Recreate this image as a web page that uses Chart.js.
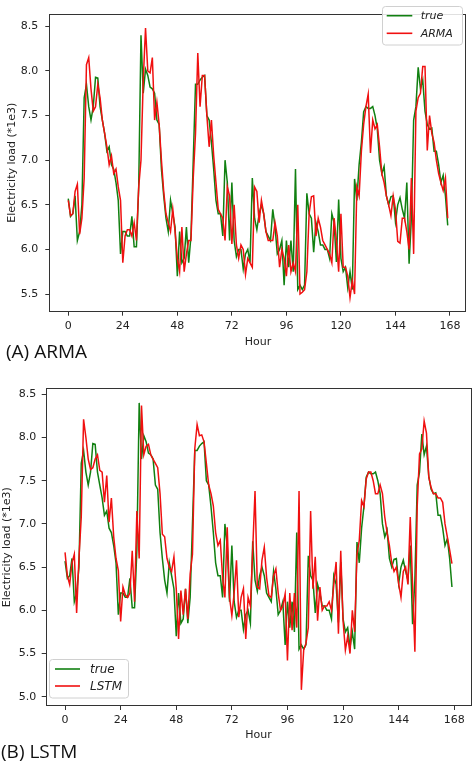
<!DOCTYPE html>
<html><head><meta charset="utf-8">
<script src="https://cdn.jsdelivr.net/npm/chart.js@4.4.1/dist/chart.umd.min.js"></script>
<style>
html,body{margin:0;padding:0;background:#fff;width:474px;height:763px;overflow:hidden;}
canvas{position:absolute;left:0;}
#c1{top:0;width:474px;height:350px;}
#c2{top:376px;width:474px;height:366px;}
.cap{position:absolute;font-family:"Open Sans",sans-serif;font-size:19px;color:#111;white-space:nowrap;line-height:19px;}
</style></head><body>
<canvas id="c1" width="474" height="350"></canvas>
<canvas id="c2" width="474" height="366"></canvas>
<div class="cap" style="left:6px;top:342px;">(A) ARMA</div>
<div class="cap" style="left:1px;top:742px;">(B) LSTM</div>
<script>
// ---- data (hourly electricity load, *1e3) ----
const trueLoad = [
6.57,6.37,6.40,6.60,6.10,6.20,6.50,7.70,7.85,7.60,7.45,7.60,7.93,7.92,7.60,7.45,7.30,7.10,7.15,6.95,
6.90,6.75,6.55,5.95,6.20,6.20,6.15,6.15,6.37,6.03,6.03,6.70,8.40,7.75,8.02,7.95,7.82,7.80,7.75,7.45,
7.40,6.90,6.60,6.35,6.20,6.55,6.40,6.25,5.70,6.20,5.85,5.90,6.25,5.85,6.15,7.00,7.85,7.85,7.90,7.93,
7.95,7.50,7.45,7.20,6.90,6.55,6.40,6.40,6.15,7.00,6.75,6.10,6.75,6.10,5.92,6.00,6.00,5.78,5.95,6.00,
5.85,6.80,6.35,6.22,6.40,6.50,6.40,6.20,6.15,6.10,6.45,6.25,5.95,6.00,6.10,5.60,6.10,5.80,6.10,5.75,
6.90,5.55,5.60,5.55,5.60,6.63,6.40,6.35,5.97,6.30,6.20,6.05,6.05,6.00,6.00,5.90,6.40,6.30,5.86,6.56,
5.90,5.75,5.80,5.57,5.75,5.55,6.79,6.55,6.95,7.20,7.54,7.60,7.58,7.58,7.60,7.50,7.35,7.00,6.85,6.93,
6.60,6.50,6.59,6.60,6.31,6.50,6.58,6.45,6.35,6.75,5.84,6.35,7.45,7.60,8.04,7.80,7.90,7.55,7.40,7.35,
7.36,7.10,7.10,6.95,6.75,6.83,6.60,6.27];
const armaLoad = [
6.55,6.38,6.40,6.65,6.73,6.17,6.35,6.80,8.07,8.15,7.80,7.55,7.60,7.85,7.70,7.45,7.30,7.15,6.95,7.05,
6.85,6.90,6.70,6.55,5.85,6.15,6.22,6.22,6.15,6.30,6.10,6.70,7.00,7.90,8.48,8.00,7.98,8.15,7.45,7.65,
7.40,7.00,6.65,6.40,6.30,6.20,6.45,6.20,5.90,5.75,6.25,5.75,5.95,6.10,6.10,6.80,7.30,8.20,7.60,7.95,
7.95,7.50,7.15,7.45,7.05,6.75,6.45,6.40,6.35,6.10,6.70,6.60,6.06,6.50,6.05,5.90,6.05,6.00,5.72,5.90,
5.85,5.80,6.70,6.65,6.30,6.55,6.40,6.20,6.10,6.10,6.10,6.30,6.15,5.80,6.00,5.90,5.70,6.05,5.75,5.85,
5.75,6.50,5.50,5.52,5.55,5.75,6.40,6.59,6.60,6.15,6.35,6.25,6.10,6.05,6.00,5.95,5.85,6.35,6.10,5.75,
6.40,5.80,5.80,5.70,5.46,5.65,5.50,6.70,6.60,7.10,7.40,7.60,7.74,7.08,7.45,7.35,7.40,7.15,6.85,6.75,
6.60,6.50,6.38,6.60,6.45,6.09,6.07,6.35,6.35,6.20,6.00,6.80,5.95,7.55,7.70,7.75,8.05,8.05,7.11,7.50,
7.30,7.20,7.00,6.85,6.75,6.66,6.80,6.35];
const lstmLoad = [
6.67,6.40,6.30,6.55,6.65,5.97,6.60,7.08,8.21,8.00,7.75,7.63,7.65,7.75,7.80,7.62,7.60,7.25,7.56,7.02,
7.30,6.85,6.60,6.46,5.87,6.27,6.18,6.15,6.20,6.69,6.10,7.15,6.60,8.37,7.80,7.90,7.92,7.80,7.75,7.70,
7.65,7.35,6.88,6.85,6.60,6.50,6.45,6.62,6.25,5.67,6.23,5.95,6.25,5.90,6.42,6.65,7.87,8.15,8.02,8.03,
7.95,7.70,7.45,7.35,7.21,6.90,6.75,6.81,6.38,6.15,6.96,6.15,5.94,6.20,6.58,5.92,6.15,6.25,5.67,6.15,
6.05,6.70,7.38,6.27,6.25,6.58,6.73,6.38,6.17,6.15,6.40,6.48,6.20,6.00,6.05,6.19,5.42,6.20,5.77,6.20,
5.80,7.38,5.08,5.54,5.62,5.80,7.15,6.25,6.62,5.88,6.27,6.00,6.05,6.05,6.10,6.00,6.30,6.56,5.73,6.69,
5.88,5.54,5.70,5.50,6.00,5.75,6.65,6.81,7.27,7.20,7.52,7.60,7.60,7.50,7.35,7.35,7.45,7.35,7.08,6.90,
6.75,6.55,6.45,6.50,6.31,6.15,6.45,6.50,6.30,7.08,6.30,5.52,7.20,7.81,7.87,8.19,8.05,7.54,7.42,7.35,
7.35,7.30,7.30,7.25,7.00,6.85,6.70,6.54];
const hours = trueLoad.map((_, i) => i);           // hour index of each reading
const xTicks = [0, 24, 48, 72, 96, 120, 144, 168];
const yTicksA = [5.5, 6.0, 6.5, 7.0, 7.5, 8.0, 8.5];
const yTicksB = [5.0, 5.5, 6.0, 6.5, 7.0, 7.5, 8.0, 8.5];
const seriesNames = ['true', 'ARMA', 'LSTM'];

// ---- helpers ----
Chart.defaults.font.family = 'DejaVu Sans';
Chart.defaults.color = '#222';
const GREEN = '#118011', RED = '#f01010', AXIS = '#333';
const pts = arr => arr.map((v, i) => ({x: hours[i], y: v}));

const frame = {
  id: 'frame',
  afterDraw(chart) {
    const {ctx, chartArea: a} = chart;
    ctx.save(); ctx.strokeStyle = AXIS; ctx.lineWidth = 1;
    ctx.strokeRect(Math.round(a.left) + 0.5, Math.round(a.top) + 0.5,
      Math.round(a.right - a.left) - 1, Math.round(a.bottom - a.top) - 1);
    ctx.restore();
  }
};
const mplLegend = {
  id: 'mplLegend',
  afterDraw(chart, args, o) {
    const ctx = chart.ctx;
    ctx.save();
    const r = 3, {x, y, w, h} = o.box;
    ctx.beginPath();
    ctx.moveTo(x + r, y); ctx.lineTo(x + w - r, y); ctx.arcTo(x + w, y, x + w, y + r, r);
    ctx.lineTo(x + w, y + h - r); ctx.arcTo(x + w, y + h, x + w - r, y + h, r);
    ctx.lineTo(x + r, y + h); ctx.arcTo(x, y + h, x, y + h - r, r);
    ctx.lineTo(x, y + r); ctx.arcTo(x, y, x + r, y, r); ctx.closePath();
    ctx.fillStyle = 'rgba(255,255,255,0.85)'; ctx.fill();
    ctx.strokeStyle = '#d0d0d0'; ctx.lineWidth = 1; ctx.stroke();
    ctx.font = 'italic ' + o.fontSize + 'px "DejaVu Sans"';
    ctx.textBaseline = 'middle'; ctx.textAlign = 'left';
    chart.data.datasets.forEach((ds, i) => {
      const yy = o.rows[i];
      ctx.strokeStyle = ds.borderColor; ctx.lineWidth = 1.6;
      ctx.beginPath(); ctx.moveTo(o.lineX[0], yy); ctx.lineTo(o.lineX[1], yy); ctx.stroke();
      ctx.fillStyle = '#222'; ctx.fillText(ds.label, o.textX, yy + 0.5);
    });
    ctx.restore();
  }
};

function makeChart(id, modelName, modelData, cfg) {
  return new Chart(document.getElementById(id), {
    type: 'line',
    data: {
      datasets: [
        {label: seriesNames[0], data: pts(trueLoad), borderColor: GREEN, order: 2},
        {label: modelName, data: pts(modelData), borderColor: RED, order: 1}
      ]
    },
    options: {
      responsive: false, animation: false, devicePixelRatio: 1,
      layout: {padding: cfg.pad},
      elements: {line: {borderWidth: 1.5, tension: 0, fill: false}, point: {radius: 0, hoverRadius: 0}},
      plugins: {legend: {display: false}, tooltip: {enabled: false}, mplLegend: cfg.legend},
      scales: {
        x: {
          type: 'linear', min: -8.35, max: 175.35,
          afterBuildTicks: s => { s.ticks = xTicks.map(v => ({value: v})); },
          afterFit: s => { s.height = cfg.xH; },
          ticks: {autoSkip: false, maxRotation: 0, padding: cfg.xPad, font: {size: 11}, color: '#222'},
          grid: {drawOnChartArea: false, drawTicks: true, tickLength: 4, tickColor: AXIS, tickWidth: 1},
          border: {display: false},
          title: {display: true, text: 'Hour', font: {size: 11}, color: '#222', padding: {top: 0, bottom: cfg.xTitlePad}}
        },
        y: {
          type: 'linear', min: cfg.ymin, max: cfg.ymax,
          afterBuildTicks: s => { s.ticks = cfg.yTicks.map(v => ({value: v})); },
          afterFit: s => { s.width = cfg.yW; },
          ticks: {padding: cfg.yPad, font: {size: 11}, color: '#222', callback: v => v.toFixed(1)},
          grid: {drawOnChartArea: false, drawTicks: true, tickLength: 4, tickColor: AXIS, tickWidth: 1},
          border: {display: false},
          title: {display: true, text: 'Electricity load (*1e3)', font: {size: 11}, color: '#222', padding: {top: cfg.yTitlePad, bottom: 0}}
        }
      }
    },
    plugins: [frame, mplLegend]
  });
}

makeChart('c1', seriesNames[1], armaLoad, {
  pad: {left: 0, top: 1, right: 7.3, bottom: 0},
  xH: 38.3, yW: 49.3, xPad: 4, yPad: 7, xTitlePad: 1.7, yTitlePad: 5.1,
  ymin: 5.302, ymax: 8.643, yTicks: yTicksA,
  legend: {box: {x: 382.5, y: 6.5, w: 80, h: 38.5}, rows: [15.7, 33.3], lineX: [386.7, 412.3], textX: 420.7, fontSize: 11}
});
makeChart('c2', seriesNames[2], lstmLoad, {
  pad: {left: 0, top: 12.3, right: 2.7, bottom: 0},
  xH: 36, yW: 45.7, xPad: 4, yPad: 5.5, xTitlePad: 0.4, yTitlePad: 0.2,
  ymin: 4.893, ymax: 8.569, yTicks: yTicksB,
  legend: {box: {x: 49.5, y: 659.5 - 376, w: 79, h: 38.5}, rows: [669 - 376, 686 - 376], lineX: [55, 80], textX: 90, fontSize: 12}
});
</script>
</body></html>
